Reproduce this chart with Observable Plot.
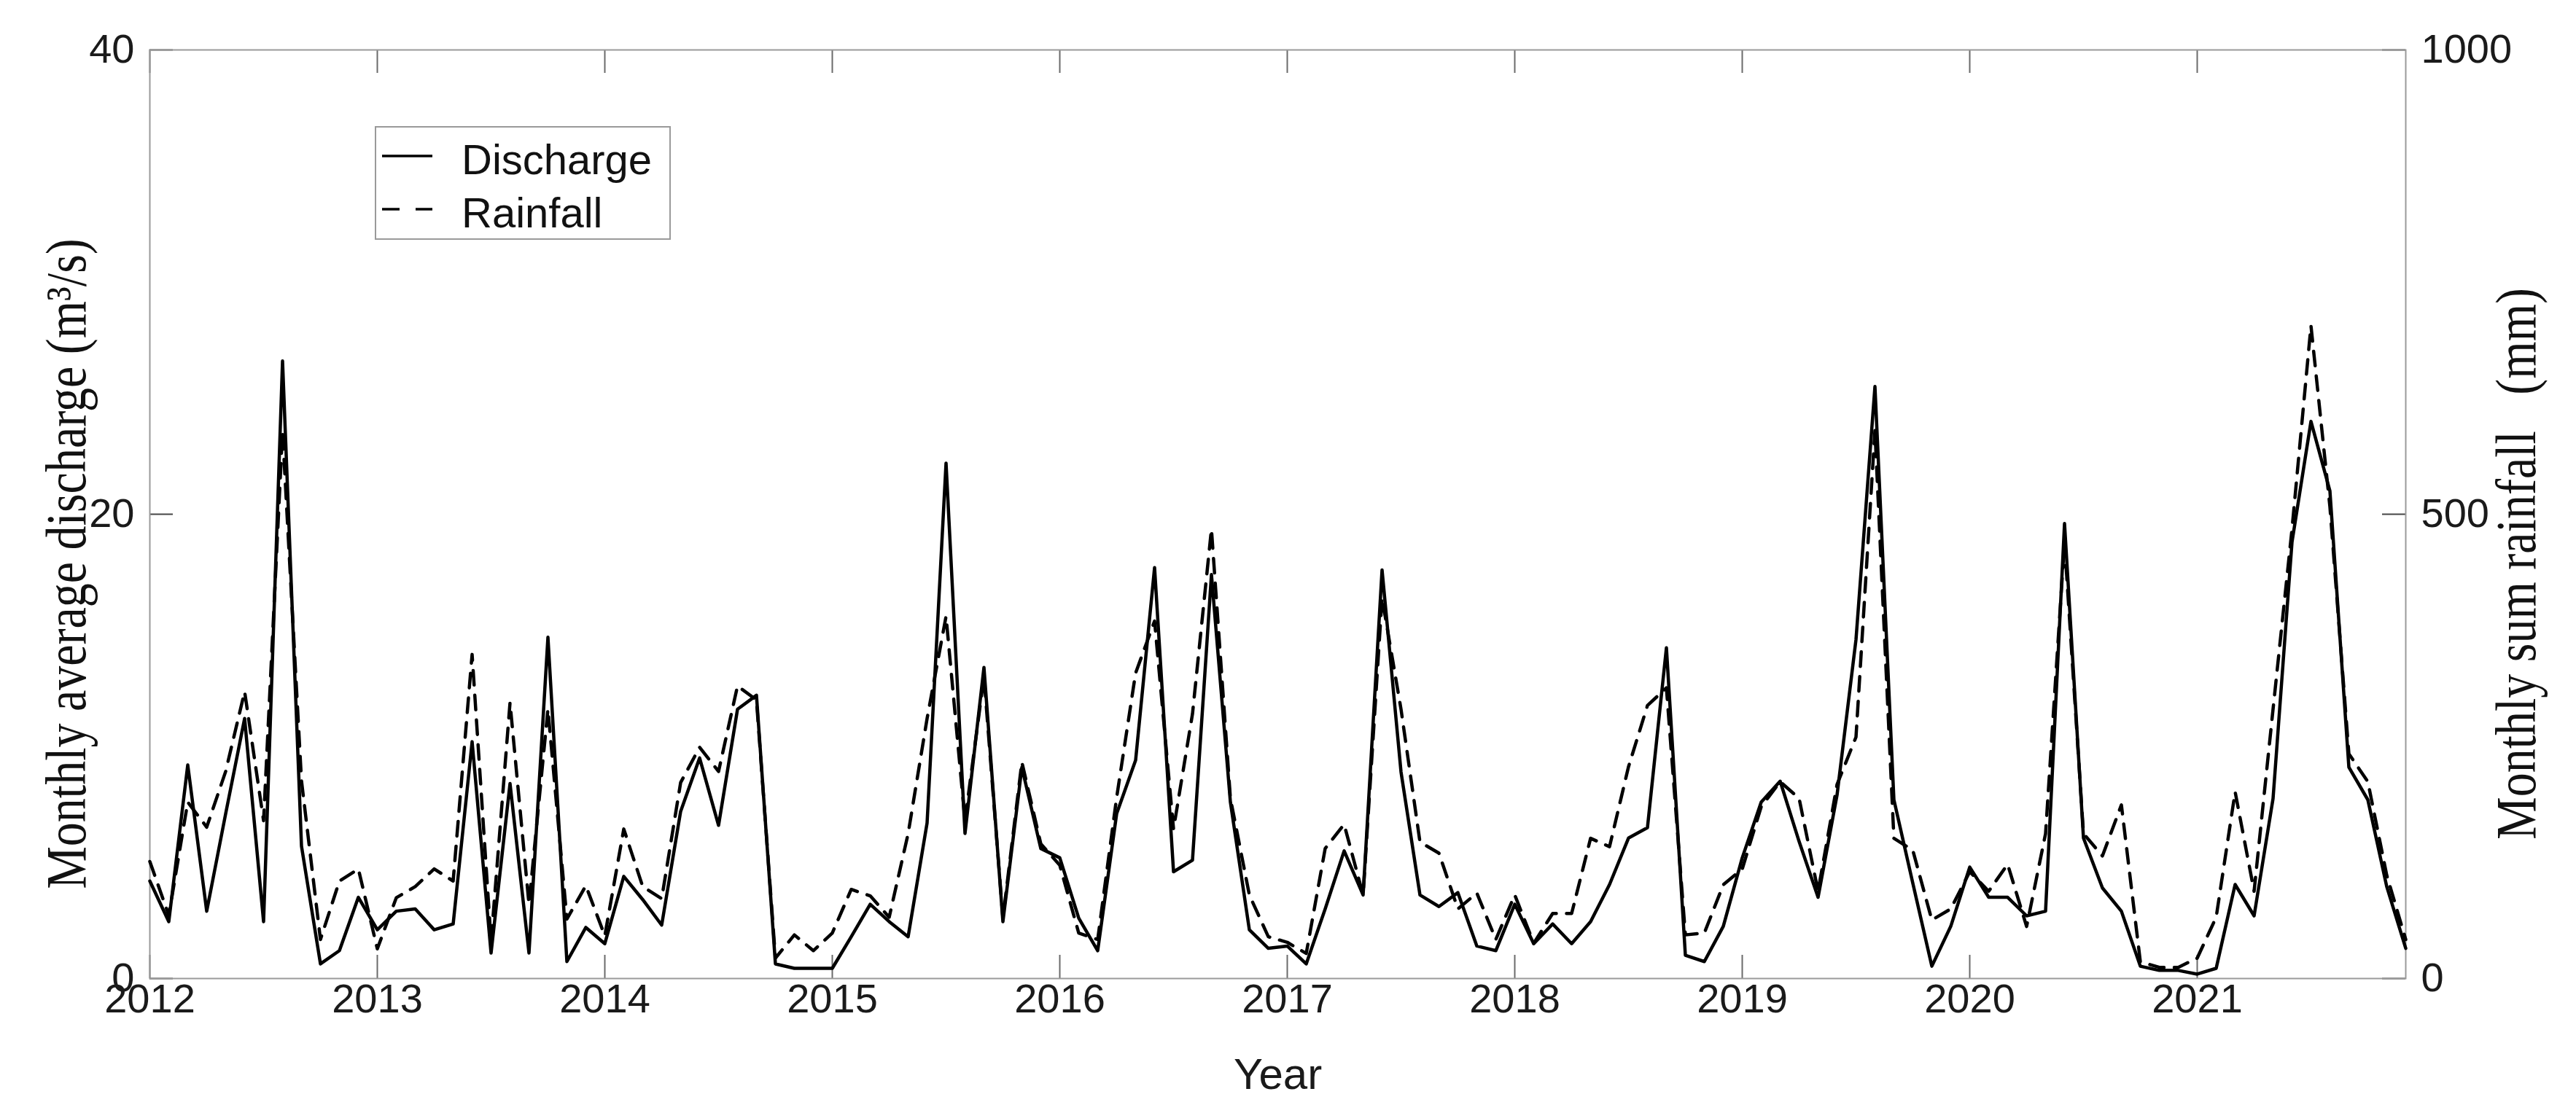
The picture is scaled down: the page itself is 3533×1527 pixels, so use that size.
<!DOCTYPE html>
<html>
<head>
<meta charset="utf-8">
<script src="https://cdn.jsdelivr.net/npm/d3@7"></script>
<script src="https://cdn.jsdelivr.net/npm/@observablehq/plot@0.6"></script>
<style>
  html, body { margin: 0; padding: 0; background: #fff; }
  #wrap { position: relative; width: 3533px; height: 1527px; overflow: hidden; }
  #legend { position: absolute; left: 514px; top: 173px; }
</style>
</head>
<body>
<div id="wrap"><div id="chart"></div><div id="legend"></div></div>
<script>
// ---------- data ----------
const startYear = 2012;
const yearTicks = [2012, 2013, 2014, 2015, 2016, 2017, 2018, 2019, 2020, 2021];

// monthly average discharge (m3/s), Jan 2012 .. Dec 2021
const discharge = [
  4.2, 2.45, 9.2, 2.9, 7.1, 11.2, 2.45, 26.6, 5.7, 0.63, 1.2, 3.5,
  2.1, 2.9, 3.0, 2.1, 2.35, 10.2, 1.1, 8.4, 1.1, 14.7, 0.73, 2.2,
  1.5, 4.4, 3.4, 2.3, 7.2, 9.5, 6.6, 11.6, 12.2, 0.63, 0.44, 0.44,
  0.44, 1.8, 3.2, 2.45, 1.8, 6.7, 22.2, 6.25, 13.4, 2.45, 9.1, 5.6,
  5.2, 2.6, 1.2, 7.1, 9.4, 17.7, 4.6, 5.1, 17.4, 7.6, 2.1, 1.3,
  1.4, 0.63, 3.0, 5.5, 3.6, 17.6, 8.9, 3.6, 3.1, 3.7, 1.4, 1.2,
  3.2, 1.5, 2.35, 1.5, 2.45, 4.05, 6.05, 6.5, 14.25, 1.0, 0.73, 2.25,
  5.2, 7.6, 8.5, 5.9, 3.5, 7.9, 14.6, 25.5, 7.7, 4.1, 0.53, 2.25,
  4.8, 3.5, 3.5, 2.7, 2.9, 19.6, 6.05, 3.9, 2.9, 0.53, 0.35, 0.35,
  0.19, 0.44, 4.05, 2.7, 7.75, 18.8, 24.0, 21.0, 9.1, 7.7, 3.95, 1.3
];

// monthly sum rainfall (mm), Jan 2012 .. Dec 2021
const rainfall = [
  126, 68, 190, 163, 223, 309, 170, 589, 213, 42, 105, 118,
  32, 87, 99, 118, 105, 349, 40, 297, 80, 290, 64, 100,
  46, 161, 99, 86, 211, 249, 223, 315, 300, 22, 47, 30,
  49, 96, 89, 66, 156, 280, 390, 170, 325, 65, 233, 145,
  122, 49, 42, 195, 329, 385, 161, 285, 484, 194, 90, 45,
  39, 27, 140, 166, 90, 410, 290, 147, 135, 75, 92, 42,
  90, 38, 70, 70, 151, 142, 228, 294, 313, 47, 49, 101,
  118, 185, 212, 194, 94, 209, 260, 590, 151, 138, 63, 75,
  115, 94, 123, 56, 156, 470, 156, 132, 187, 18, 12, 12,
  22, 66, 201, 94, 290, 484, 703, 508, 242, 212, 111, 42
];

const dischargeDomain = [0, 40];
const rainfallDomain = [0, 1000];
const dischargeTicks = [0, 20, 40];
const seriesNames = ["Discharge", "Rainfall"];
const xTitle = "Year";
const yLeftTitle = "Monthly average discharge (m\u00b3/s)";
const yRightTitle = "Monthly sum rainfall\u00a0\u00a0\u00a0(mm)";

// ---------- layout ----------
const W = 3533, H = 1527;
const mL = 205, mR = 234, mT = 68, mB = 185;
const innerW = W - mL - mR, innerH = H - mT - mB;
const tickLen = 32;
const sans = '"Liberation Sans", Arial, Helvetica, sans-serif';
const serif = '"Liberation Serif", "Times New Roman", serif';

const ratio = (dischargeDomain[1] - dischargeDomain[0]) / (rainfallDomain[1] - rainfallDomain[0]);
const rows = discharge.map((q, i) => ({t: startYear + i / 12, q, r: rainfall[i]}));

const chart = Plot.plot({
  width: W,
  height: H,
  marginLeft: mL,
  marginRight: mR,
  marginTop: mT,
  marginBottom: mB,
  style: {fontFamily: sans, fontSize: "56px", color: "#1a1a1a", background: "#fff", maxWidth: "none"},
  x: {domain: [startYear, startYear + (discharge.length - 1) / 12], label: null},
  y: {domain: dischargeDomain, label: null},
  marks: [
    Plot.tickX(yearTicks, {x: d => d, insetTop: innerH - tickLen, stroke: "#6a6a6a", strokeWidth: 2}),
    Plot.tickX(yearTicks, {x: d => d, insetBottom: innerH - tickLen, stroke: "#6a6a6a", strokeWidth: 2}),
    Plot.tickY(dischargeTicks, {y: d => d, insetRight: innerW - tickLen, stroke: "#444", strokeWidth: 2}),
    Plot.tickY(dischargeTicks, {y: d => d, insetLeft: innerW - tickLen, stroke: "#444", strokeWidth: 2}),
    Plot.frame({stroke: "#9a9a9a", strokeWidth: 2}),
    Plot.axisX({ticks: yearTicks, tickFormat: "d", tickSize: 0, tickPadding: 7, fontSize: 56, label: null}),
    Plot.axisY({anchor: "left", ticks: dischargeTicks, tickSize: 0, tickPadding: 21, fontSize: 56, label: null}),
    Plot.axisY({anchor: "right", ticks: dischargeTicks, tickSize: 0, tickPadding: 21, fontSize: 56,
                tickFormat: d => String(Math.round(d / ratio)), label: null}),
    Plot.line(rows, {x: "t", y: d => d.r * ratio, stroke: "#000", strokeWidth: 4.5, strokeDasharray: "20,14"}),
    Plot.line(rows, {x: "t", y: "q", stroke: "#000", strokeWidth: 4.5}),
    Plot.text([xTitle], {text: d => d, frameAnchor: "bottom", textAnchor: "middle", lineAnchor: "top", dy: 109,
                         fontSize: 60, fill: "#1a1a1a"}),
    Plot.text([yLeftTitle], {text: d => d, frameAnchor: "left", textAnchor: "middle", lineAnchor: "middle",
                             rotate: -90, dx: -113, dy: 68, fontSize: 66, fontFamily: serif, fill: "#111"}),
    Plot.text([yRightTitle], {text: d => d, frameAnchor: "right", textAnchor: "middle", lineAnchor: "middle",
                              rotate: -90, dx: 153, dy: 68, fontSize: 66, fontFamily: serif, fill: "#111"})
  ]
});

// stretch the serif titles' glyphs like the reference
chart.querySelectorAll("text").forEach(t => {
  if (t.textContent.startsWith("Monthly")) {
    const tr = t.getAttribute("transform") || "";
    t.setAttribute("transform", tr + " scale(1,1.18)");
  }
});
document.getElementById("chart").appendChild(chart);

// ---------- legend ----------
const lg = d3.select("#legend").append("svg")
  .attr("width", 406).attr("height", 156)
  .style("display", "block");
lg.append("rect").attr("x", 1).attr("y", 1).attr("width", 404).attr("height", 154)
  .attr("fill", "#fff").attr("stroke", "#9a9a9a").attr("stroke-width", 2);
const dashes = [null, "24,22"];
seriesNames.forEach((name, i) => {
  const yy = 41 + i * 73;
  lg.append("line").attr("x1", 10).attr("x2", 79).attr("y1", yy).attr("y2", yy)
    .attr("stroke", "#000").attr("stroke-width", 3.5)
    .attr("stroke-dasharray", dashes[i]);
  lg.append("text").attr("x", 119).attr("y", yy + 25).text(name)
    .attr("font-family", sans).attr("font-size", 58).attr("fill", "#111");
});
</script>
</body>
</html>
